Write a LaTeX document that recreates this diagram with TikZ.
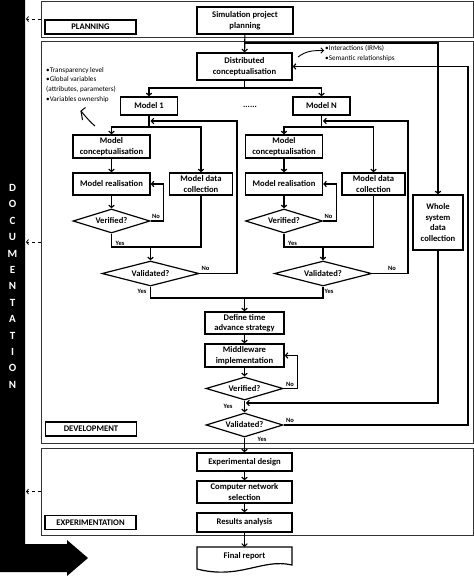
\documentclass[tikz,border=0pt]{standalone}
\usepackage{fontspec}
\setmainfont{Carlito}
\usetikzlibrary{arrows.meta,shapes.geometric}
\begin{document}
\begin{tikzpicture}[x=1pt,y=-1pt,
  every node/.style={font=\bfseries\fontsize{8.6}{10.6}\selectfont},
  proc/.style={draw, line width=1.2pt, fill=white, align=center, inner sep=0pt},
  dec/.style={draw, diamond, line width=1.2pt, fill=white, inner sep=0pt, aspect=3.2},
  arr/.style={line width=1.1pt, -{Straight Barb[length=2.6pt,width=5.5pt]}},
  ln/.style={line width=1.1pt},
  frame/.style={draw=black!80, line width=0.9pt, inner sep=0pt},
  tag/.style={draw, line width=1.2pt, inner sep=0pt, minimum width=91pt, minimum height=14pt},
  lbl/.style={font=\bfseries\fontsize{6.5}{7}\selectfont, inner sep=0pt},
  note/.style={font=\fontsize{7.2}{9.7}\selectfont, align=left, inner sep=0pt},
  docarr/.style={dashed, line width=0.8pt, -{Straight Barb[length=2pt,width=5pt]}},
]
\useasboundingbox (0,0) rectangle (474,576);
% documentation bar
\fill (0,0) -- (25,0) -- (25,544) -- (67,544) -- (67,540) -- (88,558) -- (67,576) -- (67,572) -- (0,572) -- cycle;
\foreach \l [count=\i] in {D,O,C,U,M,E,N,T,A,T,I,O,N}
  \node[text=white, font=\bfseries\fontsize{11}{11}\selectfont, inner sep=0pt] (doc\i) at (12.5,{188+16.4*(\i-1)}) {\l};
% frames
\node[frame, minimum width=432pt, minimum height=36pt] (planF) at (257,19) {};
\node[frame, minimum width=432pt, minimum height=402pt] (devF) at (257,242) {};
\node[frame, minimum width=432pt, minimum height=87pt] (expF) at (257,491.5) {};
\node[tag] (planT) at (90.5,27) {PLANNING};
\node[tag] (devT) at (91,429) {DEVELOPMENT};
\node[tag] (expT) at (90.5,522.5) {EXPERIMENTATION};
\coordinate (dP) at (26,19);
\coordinate (dD) at (26,242);
\coordinate (dE) at (26,491.5);
\draw[docarr] (planF.west) -- (dP);
\draw[docarr] (devF.west) -- (dD);
\draw[docarr] (expF.west) -- (dE);
% main nodes
\node[proc, minimum width=96pt, minimum height=27pt] (sim) at (245,20.5) {Simulation project\\planning};
\node[proc, minimum width=95pt, minimum height=27pt] (dist) at (244.5,66.5) {Distributed\\conceptualisation};
\node[proc, minimum width=57pt, minimum height=18pt] (m1) at (149,106) {Model 1};
\node[proc, minimum width=57pt, minimum height=18pt] (mN) at (321.5,106) {Model N};
\node (dots) at (250,107) {......};
% column 1
\node[proc, minimum width=77pt, minimum height=23pt] (mc1) at (111.5,146.5) {Model\\conceptualisation};
\node[proc, minimum width=77pt, minimum height=22pt] (mr1) at (111.5,184) {Model realisation};
\node[proc, minimum width=63pt, minimum height=22pt] (md1) at (201,184) {Model data\\collection};
\node[dec, minimum width=77pt, minimum height=24pt] (ver1) at (111.5,221) {Verified?};
\node[dec, minimum width=97pt, minimum height=25pt] (val1) at (150.5,273.5) {Validated?};
% column N
\node[proc, minimum width=77pt, minimum height=23pt] (mcN) at (284,146.5) {Model\\conceptualisation};
\node[proc, minimum width=77pt, minimum height=22pt] (mrN) at (284,184) {Model realisation};
\node[proc, minimum width=63pt, minimum height=22pt] (mdN) at (373.5,184) {Model data\\collection};
\node[dec, minimum width=77pt, minimum height=24pt] (verN) at (284,221) {Verified?};
\node[dec, minimum width=97pt, minimum height=25pt] (valN) at (323,273.5) {Validated?};
% whole system
\node[proc, minimum width=50pt, minimum height=55pt] (whole) at (438,222.5) {Whole\\system\\data\\collection};
% lower column
\node[proc, minimum width=79pt, minimum height=22pt] (def) at (244.5,323) {Define time\\advance strategy};
\node[proc, minimum width=79pt, minimum height=23pt] (mid) at (244.5,355.5) {Middleware\\implementation};
\node[dec, minimum width=77pt, minimum height=23pt] (ver) at (244.5,388.5) {Verified?};
\node[dec, minimum width=77pt, minimum height=24pt] (val) at (244.5,425) {Validated?};
\node[proc, minimum width=95pt, minimum height=18pt] (exp) at (244.5,462) {Experimental design};
\node[proc, minimum width=95pt, minimum height=22pt] (net) at (244.5,492) {Computer network\\selection};
\node[proc, minimum width=95pt, minimum height=19pt] (res) at (244.5,522.5) {Results analysis};
\draw[line width=1.2pt, fill=white] (197,547) -- (292,547) -- (292,565) .. controls (262,558) and (240,580) .. (197,569) -- cycle;
\node (final) at (244.5,556) {Final report};
% notes
\node[note, anchor=north west] (notesL) at (46,67) {•Transparency level\\•Global variables\\(attributes, parameters)\\•Variables ownership};
\node[note, anchor=north west] (notesR) at (325,45) {•Interactions (IRMs)\\•Semantic relationships};
\coordinate (cs) at (298,57);
\coordinate (ce) at (324,50.5);
\draw[arr, line width=0.9pt] (cs) .. controls (306,51) and (312,50.5) .. (ce);
\coordinate (hs) at (95,126);
\coordinate (he) at (81,111);
\draw[line width=1pt] (he) .. controls (86,117) and (90,122) .. (hs);
\draw[line width=1pt] (85.5,107.5) -- (he) -- (82.5,120);
% connectors top
\draw[arr] (sim) -- (dist);
\coordinate (tw) at (244.5,43);
\draw[arr] (tw) -| (whole);
\coordinate (sp) at (244.5,88);
\draw[ln] (dist) -- (sp);
\draw[arr] (sp) -| (m1);
\draw[arr] (sp) -| (mN);
% column 1 connectors
\coordinate (b1) at (149,127);
\draw[ln] (m1) -- (b1);
\draw[arr] (b1) -| (mc1);
\draw[arr] (b1) -| (md1);
\draw[arr] (mc1) -- (mr1);
\draw[arr] (mr1) -- (ver1);
\draw[arr] (ver1.east) -- ++(13,0) |- (mr1.east);
\coordinate (j1) at (150.5,247);
\draw[ln] (ver1.south) |- (j1);
\draw[ln] (md1.south) |- (j1);
\draw[arr] (j1) -- (val1);
\coordinate (f1) at (150.5,121);
\draw[arr] (val1.east) -- (237,273.5) |- (f1);
% column N connectors
\coordinate (bN) at (321.5,127);
\draw[ln] (mN) -- (bN);
\draw[arr] (bN) -| (mcN);
\draw[arr] (bN) -| (mdN);
\draw[arr] (mcN) -- (mrN);
\draw[arr] (mrN) -- (verN);
\draw[arr] (verN.east) -- ++(13,0) |- (mrN.east);
\coordinate (jN) at (323,247);
\draw[ln] (verN.south) |- (jN);
\draw[ln] (mdN.south) |- (jN);
\draw[arr] (jN) -- (valN);
\coordinate (fN) at (323,121);
\draw[arr] (valN.east) -- (408,273.5) |- (fN);
% merge
\coordinate (jm) at (244.5,298);
\draw[ln] (val1.south) |- (jm);
\draw[ln] (valN.south) |- (jm);
\draw[arr] (jm) -- (def);
\draw[arr] (def) -- (mid);
\draw[arr] (mid) -- (ver);
\draw[arr] (ver.east) -- ++(14,0) |- (mid.east);
\draw[arr] (ver) -- (val);
\coordinate (wj) at (246,403);
\draw[arr] (whole.south) |- (wj);
\draw[arr] (val.east) -- (468,425) |- (dist.east);
\draw[arr] (val) -- (exp);
\draw[arr] (exp) -- (net);
\draw[arr] (net) -- (res);
\coordinate (ftop) at (244.5,547);
\draw[arr] (res) -- (ftop);
% labels
\node[lbl] (l1) at (156,216) {No};
\node[lbl] (l2) at (120,243) {Yes};
\node[lbl] (l3) at (205.5,268) {No};
\node[lbl] (l4) at (142,291) {Yes};
\node[lbl] (l5) at (328.5,216) {No};
\node[lbl] (l6) at (292.5,243) {Yes};
\node[lbl] (l7) at (392,268) {No};
\node[lbl] (l8) at (329,291) {Yes};
\node[lbl] (l9) at (290,384) {No};
\node[lbl] (l10) at (228,406) {Yes};
\node[lbl] (l11) at (290,420) {No};
\node[lbl] (l12) at (262,439) {Yes};
\end{tikzpicture}
\end{document}
